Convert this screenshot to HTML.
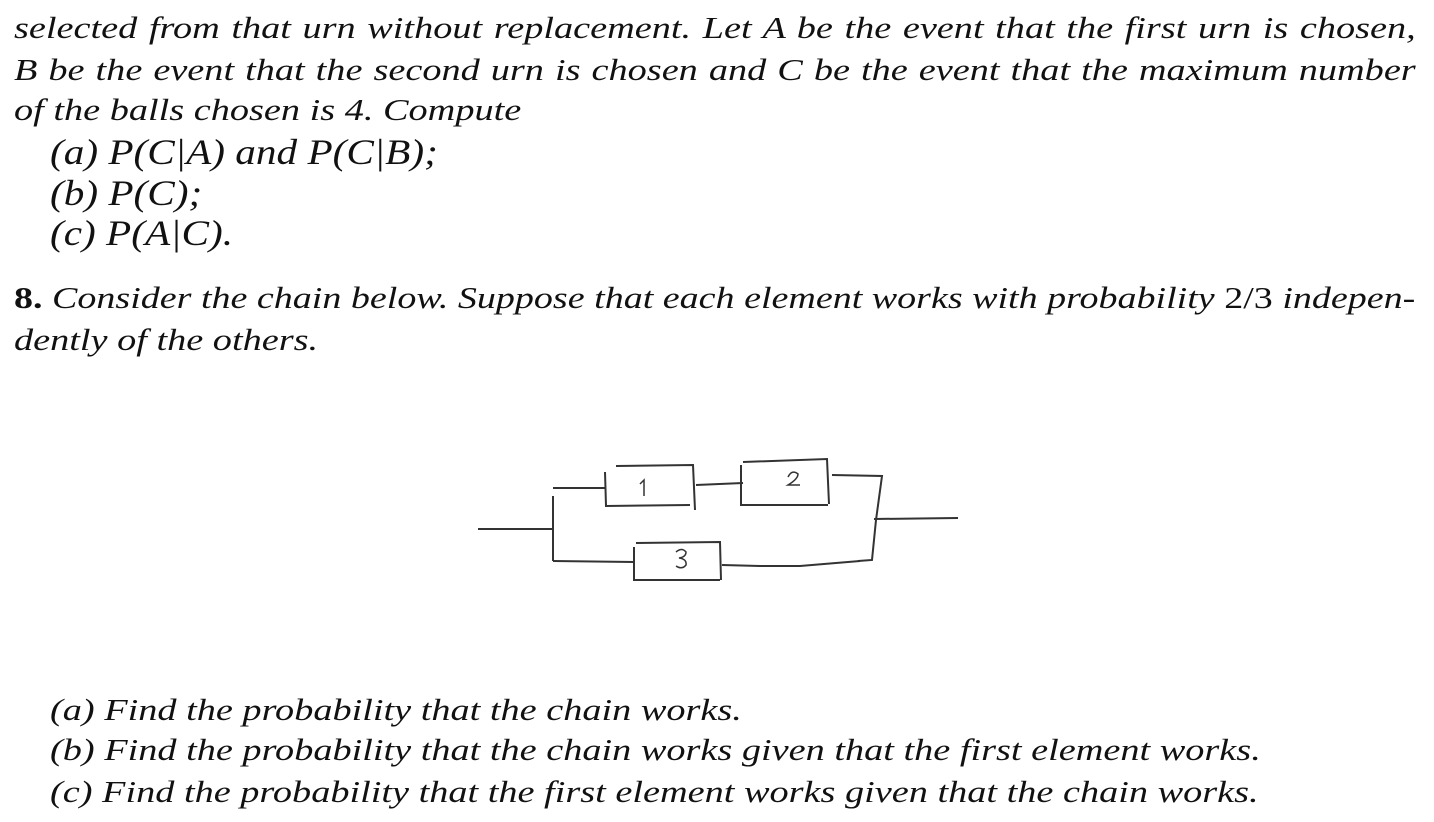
<!DOCTYPE html>
<html><head><meta charset="utf-8"><style>
html,body{margin:0;padding:0;background:#fff;}
body{width:1434px;height:822px;position:relative;overflow:hidden;font-family:"Liberation Serif",serif;font-style:italic;color:#111;}
.l{position:absolute;white-space:nowrap;font-size:31px;line-height:1;transform:scaleX(1.235);transform-origin:0 0;}
.j{text-align:justify;text-align-last:justify;width:1135px;}
.big{font-size:36px;transform:scaleX(1.145);}
svg{position:absolute;left:0;top:0;}
</style></head><body>
<div class="l j" style="left:14px;top:12px;">selected from that urn without replacement. Let A be the event that the first urn is chosen,</div>
<div class="l j" style="left:14px;top:54px;">B be the event that the second urn is chosen and C be the event that the maximum number</div>
<div class="l" style="left:14px;top:94px;">of the balls chosen is 4. Compute</div>
<div class="l big" style="left:50px;top:134px;">(a) P(C|A) and P(C|B);</div>
<div class="l big" style="left:50px;top:175px;">(b) P(C);</div>
<div class="l big" style="left:50px;top:215px;">(c) P(A|C).</div>
<div class="l j" style="left:14px;top:282px;width:1143px;transform:scaleX(1.226);"><b style="font-style:normal">8.</b> Consider the chain below. Suppose that each element works with probability <span style="font-style:normal">2/3</span> indepen-</div>
<div class="l" style="left:14px;top:324px;">dently of the others.</div>
<div class="l" style="left:50px;top:694px;">(a) Find the probability that the chain works.</div>
<div class="l" style="left:50px;top:734px;">(b) Find the probability that the chain works given that the first element works.</div>
<div class="l" style="left:50px;top:776px;">(c) Find the probability that the first element works given that the chain works.</div>
<svg width="1434" height="822" fill="none" stroke="#333" stroke-width="2">
<path d="M478 529 L552 529"/>
<path d="M553 496 L553 561"/>
<path d="M553 488 L606 488"/>
<path d="M605 472 L606 506 L690 505 M616 466 L693 465 L695 510"/>
<path d="M696 485 L743 483"/>
<path d="M743 462 L827 459 L829 504 M741 465 L741 505 L828 505"/>
<path d="M832 475 L882 476 L876 520 L872 560 L858 561"/>
<path d="M874 519 L958 518"/>
<path d="M553 561 L634 562"/>
<path d="M634 547 L634 580 L720 580 M636 543 L720 542 L721 580"/>
<path d="M722 565 L760 566 L800 566 L860 561"/>
<path d="M640 484 l4 -4 l0 16 M788 477 q4 -8 10 -3 q0 5 -10 11 l12 0 M676 552 q6 -5 10 0 q0 5 -7 6 q8 1 7 7 q-4 5 -10 1" stroke-width="1.5"/>
</svg>
</body></html>
